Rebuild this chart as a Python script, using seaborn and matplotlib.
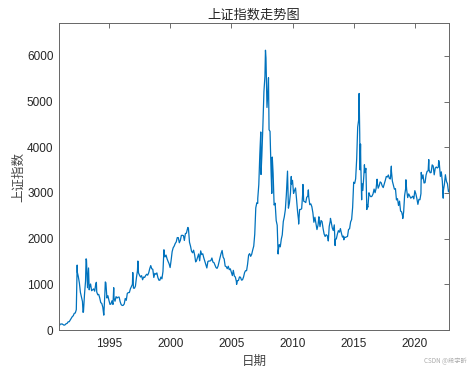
import matplotlib
matplotlib.use('Agg')
import matplotlib.pyplot as plt
import matplotlib.dates as mdates
import seaborn as sns
import pandas as pd
import numpy as np

# cierres mensuales del indice (dic 1990 - oct 2022)
close_monthly = [
    128,
    129, 134, 120, 105, 114, 137, 145, 180, 180, 218, 259, 292,            # 1991
    313, 365, 372, 445, 1265, 1167, 1028, 822, 720, 624, 400, 780,        # 1992
    1072, 1536, 925, 1358, 935, 1007, 860, 880, 900, 850, 1000, 833,      # 1993
    770, 780, 700, 600, 580, 500, 333, 800, 1033, 700, 750, 647,          # 1994
    560, 570, 640, 560, 700, 630, 730, 700, 720, 720, 620, 555,           # 1995
    537, 540, 570, 690, 650, 800, 820, 820, 900, 950, 1000, 917,          # 1996
    915, 960, 1150, 1300, 1250, 1200, 1160, 1190, 1100, 1160, 1150, 1194, # 1997
    1220, 1200, 1250, 1340, 1410, 1340, 1330, 1150, 1240, 1220, 1250, 1147,
    1090, 1090, 1160, 1120, 1280, 1690, 1600, 1640, 1560, 1500, 1450, 1367,
    1535, 1715, 1800, 1836, 1894, 1928, 2023, 2022, 1910, 1961, 2070, 2073,
    2065, 1960, 2112, 2119, 2214, 2218, 1920, 1834, 1724, 1690, 1747, 1646,
    1491, 1524, 1593, 1664, 1515, 1732, 1651, 1669, 1581, 1507, 1430, 1358,
    1499, 1511, 1510, 1521, 1576, 1487, 1476, 1421, 1367, 1349, 1397, 1497,
    1590, 1675, 1741, 1595, 1555, 1399, 1387, 1342, 1396, 1320, 1340, 1266,
    1191, 1306, 1181, 1159, 1060, 1080, 1083, 1162, 1155, 1092, 1099, 1161,
    1258, 1299, 1298, 1440, 1641, 1672, 1612, 1658, 1752, 1837, 2099, 2675,
    2786, 2881, 3183, 3841, 4109, 3820, 4471, 5218, 5552, 5955, 4871, 5262,
    4383, 4348, 3473, 3693, 3433, 2736, 2775, 2397, 2293, 1729, 1871, 1821,
    1990, 2082, 2374, 2477, 2632, 2959, 3412, 2667, 2779, 2996, 3195, 3277,
    2989, 3051, 3109, 2870, 2592, 2398, 2638, 2638, 2655, 2979, 2820, 2808,
    2790, 2905, 2928, 2911, 2743, 2762, 2701, 2568, 2359, 2468, 2333, 2199,
    2292, 2428, 2262, 2397, 2373, 2225, 2103, 2047, 2086, 2069, 1980, 2269,
    2385, 2366, 2237, 2178, 2301, 1979, 1994, 2098, 2175, 2141, 2220, 2116,
    2033, 2056, 2033, 2026, 2039, 2048, 2201, 2217, 2364, 2420, 2683, 3235,
    3210, 3310, 3748, 4442, 4612, 4277, 3664, 3206, 3053, 3383, 3445, 3539,
    2738, 2688, 3004, 2938, 2917, 2930, 2979, 3085, 3005, 3100, 3250, 3104,
    3159, 3242, 3223, 3155, 3117, 3192, 3273, 3361, 3349, 3393, 3317, 3307,
    3481, 3259, 3169, 3082, 3095, 2847, 2876, 2725, 2821, 2603, 2588, 2494,
    2585, 2941, 3091, 3078, 2899, 2979, 2933, 2886, 2905, 2929, 2871, 3050,
    2977, 2880, 2750, 2860, 2852, 2985, 3310, 3396, 3218, 3225, 3392, 3473,
    3483, 3509, 3442, 3447, 3615, 3591, 3397, 3544, 3568, 3547, 3564, 3640,
    3361, 3462, 3252, 3047, 3186, 3399, 3253, 3202, 3024, 3070,           # 2022
]

# picos y valles dentro del mes
extra_dates = ['1990-12-19', '1992-05-26', '1992-11-17', '1993-02-16', '1993-05-20',
               '1993-12-20', '1994-07-29', '1994-09-13', '1995-05-22', '1996-12-11',
               '1997-05-12', '1999-06-29', '2001-06-14', '2005-06-06', '2007-02-27',
               '2007-05-29', '2007-06-05', '2007-10-16', '2008-01-14', '2008-04-22',
               '2008-05-06', '2008-10-28', '2009-08-04', '2009-11-24', '2010-07-02',
               '2010-11-08', '2011-04-18', '2012-02-27', '2012-12-03', '2013-02-06',
               '2013-06-25', '2014-03-12', '2015-06-12', '2015-07-08', '2015-07-24',
               '2015-08-26', '2015-11-17', '2016-01-28', '2016-11-29', '2018-01-29',
               '2019-01-04', '2019-04-08', '2020-07-09', '2021-02-18', '2021-12-13',
               '2022-04-26']
extra_vals = [100, 1421, 386, 1558, 880,
              1044, 325, 1052, 926, 1258,
              1510, 1756, 2245, 998, 2771,
              4335, 3404, 6124, 5522, 2990,
              3786, 1664, 3478, 3361, 2319,
              3186, 3067, 2478, 1949, 2444,
              1849, 1974, 5178, 3507, 4070,
              2850, 3617, 2638, 3301, 3587,
              2440, 3288, 3450, 3731, 3708,
              2886]

dates = pd.date_range('1990-12-31', periods=len(close_monthly), freq='ME')
df = pd.concat([
    pd.DataFrame({'fecha': dates, 'indice': close_monthly}),
    pd.DataFrame({'fecha': pd.to_datetime(extra_dates), 'indice': extra_vals}),
]).sort_values('fecha')

sns.set_style('white')
plt.rcParams['font.family'] = ['Liberation Sans', 'DejaVu Sans']
cjk = ['Noto Sans CJK SC', 'DejaVu Sans']
gris = '#262626'

fig = plt.figure(figsize=(4.74, 3.71), dpi=100)
ax = fig.add_axes([0.1245, 0.1105, 0.8225, 0.8275])

sns.lineplot(data=df, x='fecha', y='indice', ax=ax, color='#0072BD', linewidth=0.9)

ax.set_xlim(pd.Timestamp('1990-12-01'), pd.Timestamp('2022-10-12'))
ax.set_ylim(0, 6720)
ax.xaxis.set_major_locator(mdates.YearLocator(5))
ax.xaxis.set_major_formatter(mdates.DateFormatter('%Y'))
ax.set_yticks(np.arange(0, 6001, 1000))

ax.tick_params(direction='in', length=3.5, width=0.6, top=True, right=True,
               labelsize=8.5, colors='#555555', labelcolor=gris, pad=4)
ax.tick_params(axis='x', pad=6)
for s in ax.spines.values():
    s.set_color('#666666')
    s.set_linewidth(0.7)

ax.set_title('上证指数走势图', family=cjk, fontsize=9.5, color=gris, pad=3)
ax.set_xlabel('日期', family=cjk, fontsize=9, color='#444444', labelpad=3)
ax.set_ylabel('上证指数', family=cjk, fontsize=9, color='#444444', labelpad=1)

fig.text(0.985, 0.015, 'CSDN @段宇昕', family=cjk, fontsize=4.5, color='#aaaaaa',
         ha='right', va='bottom')

plt.savefig('out.png', dpi=100)
